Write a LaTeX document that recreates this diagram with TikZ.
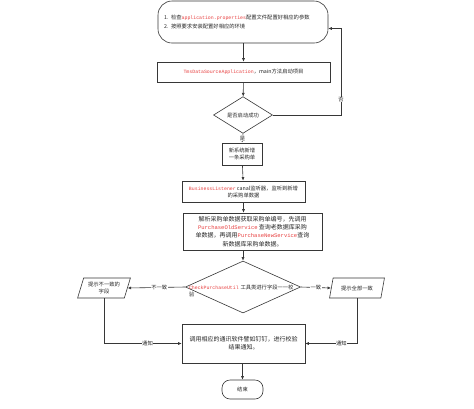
\documentclass[tikz,border=0pt]{standalone}
\usepackage{fontspec}
\setmainfont{Noto Sans CJK SC}
\newfontfamily\codefont{Liberation Mono}[Scale=0.92]
\usetikzlibrary{arrows.meta,positioning,shapes.geometric}
\definecolor{codered}{RGB}{232,64,64}
\definecolor{linegray}{RGB}{55,55,55}
\newcommand{\code}[1]{{\codefont\color{codered}#1}}

\tikzset{
  every node/.style={font=\fontsize{5.3}{7}\selectfont, text=black!85},
  terminal/.style={draw=linegray, line width=0.6pt, rounded corners=14pt},
  process/.style={draw=linegray, line width=0.6pt, align=center, inner sep=1pt},
  decision/.style={draw=linegray, line width=0.6pt, diamond, inner sep=0pt},
  io/.style={draw=linegray, line width=0.6pt, trapezium, trapezium left angle=70,
    trapezium right angle=110, trapezium stretches=true, align=center, inner sep=1pt},
  flow/.style={draw=linegray, line width=0.6pt, -{Latex[length=3.5pt,width=3pt]}},
  edgetext/.style={fill=white, inner sep=0.6pt},
}

\begin{document}
\begin{tikzpicture}[x=1pt,y=-1pt]
  \useasboundingbox (0,0) rectangle (474,408);
  \fill[white] (0,0) rectangle (474,408);
  % start
  \node[terminal, minimum width=170pt, minimum height=42pt, text width=158pt, align=left,
    font=\fontsize{5.3}{8.5}\selectfont] (start) at (243,22)
    {1. 检查\code{application.properties}配置文件配置好相应的参数\\2. 按照要求安装配置好相应的环境};
  \node[process, minimum width=173pt, minimum height=20pt] (tms) at (243.5,72)
    {\code{TmsDataSourceApplication}，main方法启动项目};
  \node[decision, minimum width=59pt, minimum height=30pt] (ok) at (243,115) {是否启动成功};
  % main line
  \node[process, minimum width=40pt, minimum height=22pt] (newbill) at (242,154)
    {新系统新增\\一条采购单};
  \node[process, minimum width=123pt, minimum height=21pt] (listen) at (243.5,191.5)
    {\code{BusinessListener} canal监听器，监听到新增\\的采购单数据};
  \node[process, minimum width=139pt, minimum height=37pt, font=\fontsize{6}{8.3}\selectfont]
    (query) at (252.5,231.5)
    {解析采购单数据获取采购单编号，先调用\\\code{PurchaseOldService} 查询老数据库采购\\单数据，再调用\code{PurchaseNewService}查询\\新数据库采购单数据。};
  \node[decision, minimum width=115pt, minimum height=52pt] (chk) at (243,287) {};
  \node[text width=112pt, align=left, inner sep=0pt] (chktext) at (245,290.5)
    {\code{CheckPurchaseUtil} 工具类进行字段一一校\\验};
  % results
  \node[io, minimum width=53pt, minimum height=20pt] (diff) at (104,288) {提示不一致的\\字段};
  \node[io, minimum width=55pt, minimum height=20pt] (same) at (357,288) {提示全部一致};
  \node[process, minimum width=123pt, minimum height=39pt, font=\fontsize{6}{8.3}\selectfont]
    (notify) at (243.5,343.5) {调用相应的通讯软件譬如钉钉，进行校验\\结果通知。};
  \node[terminal, rounded corners=8pt, minimum width=41pt, minimum height=19pt] (finish)
    at (242.5,389.5) {结束};

  % connectors
  \coordinate (loop) at (341,115);
  \coordinate (entry) at ([yshift=-6.5pt]start.east);
  \draw[flow] (start.south -| tms.north) -- (tms.north);
  \draw[flow] (tms) -- (ok);
  \draw[flow] (ok.east) -- (loop) -- node[edgetext, pos=0.18]{否} (loop |- entry) -- (entry);
  \draw[flow] (ok.south) -- node[edgetext]{是} (newbill.north);
  \draw[flow] (newbill) -- (listen);
  \draw[flow] (listen.south) -- (listen.south |- query.north);
  \draw[flow] (query.south -| chk.north) -- (chk.north);
  \draw[flow] (chk.west) -- node[edgetext, pos=0.45]{不一致} (diff.east);
  \draw[flow] (chk.east) -- node[edgetext]{一致} (same.west);
  \draw[flow] (diff.south) |- node[edgetext, pos=0.78]{通知} (notify.west);
  \draw[flow] (same.south) |- node[edgetext, pos=0.65]{通知} (notify.east);
  \draw[flow] (notify.south -| finish.north) -- (finish.north);
\end{tikzpicture}
\end{document}
